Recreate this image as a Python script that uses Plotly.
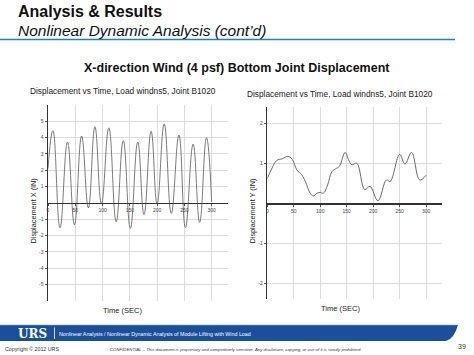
import plotly.graph_objects as go

# ---- data ----
time_x = [0, 9, 22, 35.7, 48.5, 61.6, 74, 86, 98, 111.5, 125, 138, 151, 164.5, 176, 189, 200, 213, 226, 240, 252, 266, 278, 290.5, 300]
disp_x = [2.1, 4.43, -1.53, 3.73, -1.35, 4.1, -0.3, 4.67, -0.05, 4.6, -1.16, 3.82, -1.57, 3.73, -0.72, 4.39, -0.05, 4.84, -0.65, 4.16, -1.53, 3.6, -1.2, 4.0, 0.05]

time_y = [0, 9, 18, 28, 39, 47, 56, 65, 72, 81, 87, 94, 100, 106, 114, 122, 129, 136, 147, 154, 160, 169, 184, 194, 209, 225, 232, 250, 260, 272.5, 288, 300]
disp_y = [0.62, 0.88, 1.07, 1.11, 1.17, 1.1, 0.83, 0.71, 0.54, 0.25, 0.18, 0.25, 0.27, 0.25, 0.46, 0.79, 0.86, 0.92, 1.27, 1.07, 0.96, 1.0, 0.34, 0.42, 0.06, 0.58, 0.54, 1.22, 0.98, 1.27, 0.58, 0.7]

x_ticks = [0, 50, 100, 150, 200, 250, 300]
left_yticks = [-5, -4, -3, -2, -1, 1, 2, 3, 4, 5]
right_yticks = [-2, -1, 1, 2]

W, H = 474, 355
FONT = "Liberation Sans, Arial, sans-serif"

def px(x):
    return x / W

def py(y):
    return 1 - y / H

fig = go.Figure()
fig.add_trace(go.Scatter(x=time_x, y=disp_x, mode="lines", line=dict(color="#7a7a7a", width=1, shape="spline", smoothing=1.3),
                         xaxis="x", yaxis="y", showlegend=False, hoverinfo="skip"))
fig.add_trace(go.Scatter(x=time_y, y=disp_y, mode="lines", line=dict(color="#6a6a6a", width=1, shape="spline", smoothing=1.1),
                         xaxis="x2", yaxis="y2", showlegend=False, hoverinfo="skip"))

L_dom_x = [px(48), px(228)]
L_dom_y = [py(300.7), py(105)]
R_dom_x = [px(267.3), px(442)]
R_dom_y = [py(299), py(107.3)]

def xax(dom, pos):
    return dict(domain=dom, range=[0, 330], anchor="free", position=pos,
                tickvals=x_ticks, ticktext=[str(v) for v in x_ticks],
                showgrid=True, gridcolor="#dcdcdc", gridwidth=1,
                showline=True, linecolor="#333333", linewidth=1.5,
                ticks="outside", ticklen=2, tickcolor="#555", tickfont=dict(size=5, color="#444", family=FONT),
                zeroline=False, fixedrange=True)

def yax(dom, rng, ticks, anchor):
    return dict(domain=dom, range=rng, anchor=anchor,
                tickvals=ticks, ticktext=[str(v) for v in ticks],
                showgrid=True, gridcolor="#dcdcdc", gridwidth=1,
                showline=True, linecolor="#333333", linewidth=1.5,
                ticks="outside", ticklen=2, tickcolor="#555", tickfont=dict(size=5, color="#444", family=FONT),
                zeroline=False, fixedrange=True)

fig.update_layout(
    width=W, height=H, margin=dict(l=0, r=0, t=0, b=0),
    paper_bgcolor="white", plot_bgcolor="white",
    font=dict(family=FONT, color="#222"),
    xaxis=xax(L_dom_x, (L_dom_y[0] + L_dom_y[1]) / 2),
    yaxis=yax(L_dom_y, [-6, 6], left_yticks, "x"),
    xaxis2=xax(R_dom_x, (R_dom_y[0] + R_dom_y[1]) / 2),
    yaxis2=yax(R_dom_y, [-2.4, 2.4], right_yticks, "x2"),
)

ann = []
def text(x, y, s, size, bold=False, italic=False, color="#222", xanchor="left", angle=0, family=FONT):
    if bold:
        s = "<b>" + s + "</b>"
    if italic:
        s = "<i>" + s + "</i>"
    ann.append(dict(x=px(x), y=py(y), xref="paper", yref="paper", text=s, showarrow=False,
                    xanchor=xanchor, yanchor="middle", textangle=angle, borderpad=0,
                    font=dict(size=size, color=color, family=family)))

text(17, 12, "Analysis &amp; Results", 16, bold=True, color="#111")
text(17, 30, "Nonlinear Dynamic Analysis (cont’d)", 15.5, italic=True, color="#111")
text(237, 68, "X-direction Wind (4 psf) Bottom Joint Displacement", 12.5, bold=True, color="#111", xanchor="center")
text(122.5, 90.5, "Displacement vs Time, Load windns5, Joint B1020", 8.3, xanchor="center")
text(340, 94, "Displacement vs Time, Load windns5, Joint B1020", 8.3, xanchor="center")
text(32.5, 211, "Displacement X (IN)", 7.3, xanchor="center", angle=-90)
text(251.5, 211, "Displacement Y (IN)", 7.3, xanchor="center", angle=-90)
text(122, 310, "Time (SEC)", 7.5, xanchor="center")
text(340, 308, "Time (SEC)", 7.5, xanchor="center")
# footer
text(17, 333.5, "URS", 12, bold=True, color="white", family="DejaVu Serif, Liberation Serif, serif")
text(58, 333.5, "Nonlinear Analysis / Nonlinear Dynamic Analysis of Module Lifting with Wind Load", 5.3, color="white")
text(4, 349, "Copyright © 2012 URS", 5.3, color="#333")
text(109, 349, "CONFIDENTIAL – This document is proprietary and competitively sensitive. Any disclosure, copying, or use of it is strictly prohibited.", 4.3, italic=True, color="#333")
text(462, 346, "39", 7, color="#333", xanchor="center")
fig.update_layout(annotations=ann)

shapes = [
    dict(type="line", xref="paper", yref="paper", x0=0, x1=px(455), y0=py(39.5), y1=py(39.5),
         line=dict(color="#2a7ab8", width=1.6)),
    dict(type="path", xref="paper", yref="paper",
         path=f"M 0,{py(325)} L {px(458)},{py(325)} Q {px(454)},{py(339)} {px(446)},{py(341)} L 0,{py(341)} Z",
         fillcolor="#1b4f9a", line=dict(width=0)),
    dict(type="line", xref="paper", yref="paper", x0=0, x1=px(458), y0=py(325.3), y1=py(325.3),
         line=dict(color="#3f78c0", width=0.8)),
    dict(type="line", xref="paper", yref="paper", x0=px(54.5), x1=px(54.5), y0=py(327.5), y1=py(339),
         line=dict(color="white", width=0.8)),
]
fig.update_layout(shapes=shapes)

fig.write_html("out.html", config={"displayModeBar": False, "staticPlot": True},
               post_script="document.body.style.margin='0';document.body.style.padding='0';")
